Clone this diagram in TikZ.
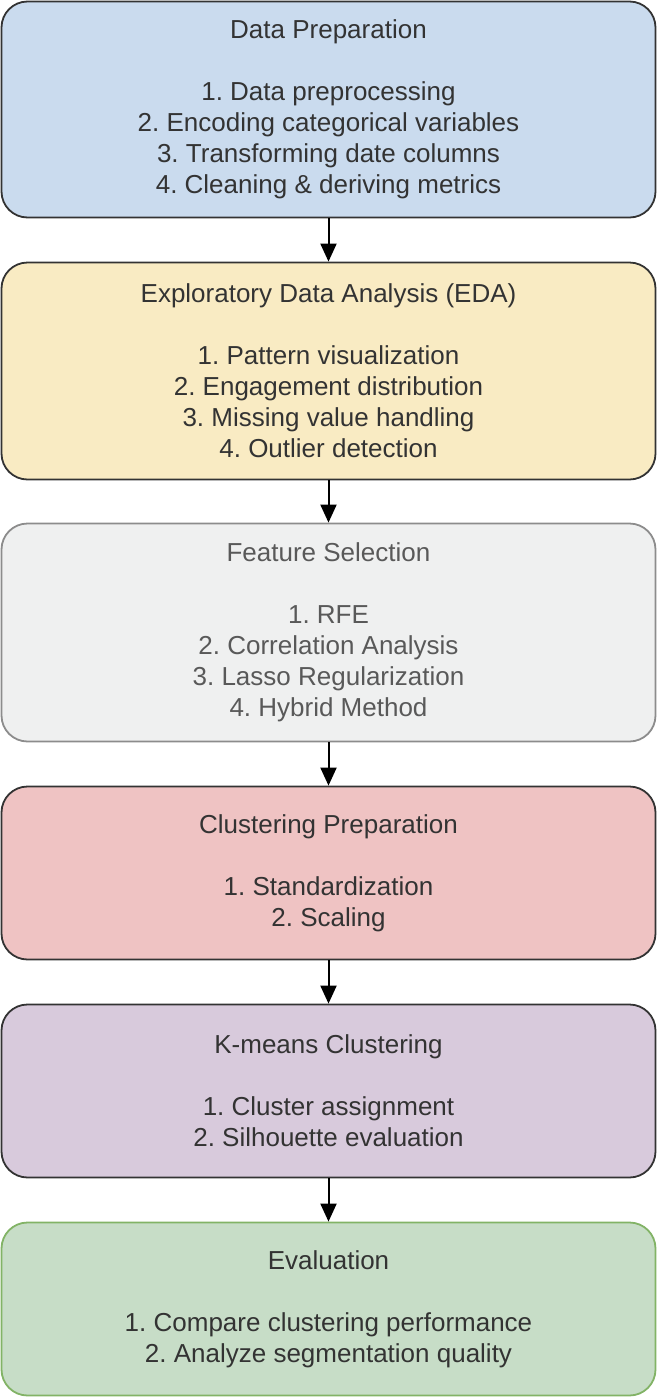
\documentclass[tikz,border=0pt]{standalone}
\usepackage{fontspec}
\setmainfont{Liberation Sans}
\usepackage{xcolor}
\usetikzlibrary{arrows.meta,positioning}

\definecolor{prepfill}{HTML}{CADBEE}
\definecolor{edafill}{HTML}{F9EBC3}
\definecolor{selfill}{HTML}{EFF0F0}
\definecolor{clufill}{HTML}{EFC3C3}
\definecolor{kmfill}{HTML}{D8CADC}
\definecolor{evafill}{HTML}{C7DDC7}
\definecolor{evadraw}{HTML}{82B366}

\begin{document}
\begin{tikzpicture}[
  x=1pt, y=1pt,
  font=\fontsize{26}{31}\selectfont\frenchspacing,
  st/.style={draw=black!80, rounded corners=26pt, align=center, line width=1.8pt,
             minimum width=654pt, text=black!80},
  ar/.style={-{Triangle[length=18pt,width=16pt]}, line width=2pt}
]
\useasboundingbox (0,0) rectangle (657,-1398);
% pipeline stages
\node[st, fill=prepfill, minimum height=216pt] (pre) at (328.5,-109.5)
  {Data Preparation\\[31pt]1. Data preprocessing\\2. Encoding categorical variables\\3. Transforming date columns\\4. Cleaning \& deriving metrics};
\node[st, fill=edafill, minimum height=217pt] (eda) at (328.5,-371)
  {Exploratory Data Analysis (EDA)\\[31pt]1. Pattern visualization\\2. Engagement distribution\\3. Missing value handling\\4. Outlier detection};
\node[st, fill=selfill, draw=black!45, text=black!65, minimum height=218pt] (sel) at (328.5,-632.5)
  {Feature Selection\\[31pt]1. RFE\\2. Correlation Analysis\\3. Lasso Regularization\\4. Hybrid Method};
\node[st, fill=clufill, minimum height=173pt] (clu) at (328.5,-873)
  {Clustering Preparation\\[31pt]1. Standardization\\2. Scaling};
\node[st, fill=kmfill, minimum height=173pt] (kme) at (328.5,-1091)
  {K-means Clustering\\[31pt]1. Cluster assignment\\2. Silhouette evaluation};
\node[st, fill=evafill, draw=evadraw, minimum height=173pt] (eva) at (328.5,-1309)
  {Evaluation\\[31pt]1. Compare clustering performance\\2. Analyze segmentation quality};
% arrows
\draw[ar] (pre) -- (eda);
\draw[ar] (eda) -- (sel);
\draw[ar] (sel) -- (clu);
\draw[ar] (clu) -- (kme);
\draw[ar] (kme) -- (eva);
\end{tikzpicture}
\end{document}
